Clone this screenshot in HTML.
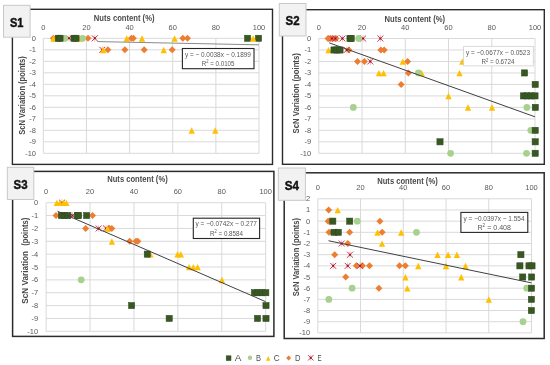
<!DOCTYPE html>
<html><head><meta charset="utf-8"><title>ScN variation vs nuts content</title>
<style>
html,body{margin:0;padding:0;background:#fff;}
body{width:550px;height:365px;overflow:hidden;}
svg{display:block;}
text{font-family:"Liberation Sans", Arial, sans-serif;}
.tk{font-size:7.5px;fill:#595959;}
.ti{font-size:8.2px;font-weight:bold;fill:#4a4a4a;}
.ti2{font-size:8.2px;font-weight:bold;fill:#6a6a6a;}
.eq{font-size:7px;fill:#595959;}
.lb{font-size:12.8px;font-weight:bold;fill:#111;stroke:#111;stroke-width:0.45px;}
.lg{font-size:9.4px;fill:#505050;}
</style></head>
<body>
<svg width="550" height="365" viewBox="0 0 550 365">
<rect width="550" height="365" fill="#fff"/>
<rect x="12.4" y="9.3" width="260.1" height="155.1" fill="#fff" stroke="#2b2b2b" stroke-width="1.4"/>
<path d="M43.30 153.30H259.00 M43.30 141.80H259.00 M43.30 130.30H259.00 M43.30 118.80H259.00 M43.30 107.30H259.00 M43.30 95.80H259.00 M43.30 84.30H259.00 M43.30 72.80H259.00 M43.30 61.30H259.00 M43.30 49.80H259.00 M43.30 38.30H259.00 M43.30 38.30V153.30 M86.44 38.30V153.30 M129.58 38.30V153.30 M172.72 38.30V153.30 M215.86 38.30V153.30 M259.00 38.30V153.30" stroke="#d9d9d9" stroke-width="1" fill="none"/>
<text x="43.30" y="30.30" text-anchor="middle" class="tk">0</text>
<text x="86.44" y="30.30" text-anchor="middle" class="tk">20</text>
<text x="129.58" y="30.30" text-anchor="middle" class="tk">40</text>
<text x="172.72" y="30.30" text-anchor="middle" class="tk">60</text>
<text x="215.86" y="30.30" text-anchor="middle" class="tk">80</text>
<text x="259.00" y="30.30" text-anchor="middle" class="tk">100</text>
<text x="36.00" y="155.80" text-anchor="end" class="tk">-10</text>
<text x="36.00" y="144.30" text-anchor="end" class="tk">-9</text>
<text x="36.00" y="132.80" text-anchor="end" class="tk">-8</text>
<text x="36.00" y="121.30" text-anchor="end" class="tk">-7</text>
<text x="36.00" y="109.80" text-anchor="end" class="tk">-6</text>
<text x="36.00" y="98.30" text-anchor="end" class="tk">-5</text>
<text x="36.00" y="86.80" text-anchor="end" class="tk">-4</text>
<text x="36.00" y="75.30" text-anchor="end" class="tk">-3</text>
<text x="36.00" y="63.80" text-anchor="end" class="tk">-2</text>
<text x="36.00" y="52.30" text-anchor="end" class="tk">-1</text>
<text x="36.00" y="40.80" text-anchor="end" class="tk">0</text>
<text x="93.8" y="21.3" textLength="60.7" lengthAdjust="spacingAndGlyphs" class="ti">Nuts content (%)</text>
<text transform="translate(25.4 134.7) rotate(-90)" x="0" y="0" textLength="78.5" lengthAdjust="spacingAndGlyphs" class="ti">ScN Variation (points)</text>
<path d="M53.30 34.80L56.80 38.30L53.30 41.80L49.80 38.30Z" fill="#ed7d31"/>
<path d="M88.00 34.80L91.50 38.30L88.00 41.80L84.50 38.30Z" fill="#ed7d31"/>
<path d="M131.30 34.80L134.80 38.30L131.30 41.80L127.80 38.30Z" fill="#ed7d31"/>
<path d="M133.30 34.80L136.80 38.30L133.30 41.80L129.80 38.30Z" fill="#ed7d31"/>
<path d="M182.80 34.80L186.30 38.30L182.80 41.80L179.30 38.30Z" fill="#ed7d31"/>
<path d="M187.50 34.80L191.00 38.30L187.50 41.80L184.00 38.30Z" fill="#ed7d31"/>
<path d="M107.90 46.30L111.40 49.80L107.90 53.30L104.40 49.80Z" fill="#ed7d31"/>
<path d="M124.90 46.30L128.40 49.80L124.90 53.30L121.40 49.80Z" fill="#ed7d31"/>
<path d="M144.20 46.30L147.70 49.80L144.20 53.30L140.70 49.80Z" fill="#ed7d31"/>
<path d="M172.20 46.30L175.70 49.80L172.20 53.30L168.70 49.80Z" fill="#ed7d31"/>
<g><path d="M66.03 35.32L71.97 41.27M71.97 35.32L66.03 41.27" stroke="#c23a4a" stroke-width="1.0" fill="none"/><path d="M69.00 34.80L69.00 41.80" stroke="#c23a4a" stroke-width="0.6" opacity="0.5" fill="none"/><circle cx="69.00" cy="38.30" r="1" fill="#b0001a"/></g>
<g><path d="M91.83 35.32L97.77 41.27M97.77 35.32L91.83 41.27" stroke="#c23a4a" stroke-width="1.0" fill="none"/><path d="M94.80 34.80L94.80 41.80" stroke="#c23a4a" stroke-width="0.6" opacity="0.5" fill="none"/><circle cx="94.80" cy="38.30" r="1" fill="#b0001a"/></g>
<g><path d="M99.33 46.82L105.27 52.77M105.27 46.82L99.33 52.77" stroke="#c23a4a" stroke-width="1.0" fill="none"/><path d="M102.30 46.30L102.30 53.30" stroke="#c23a4a" stroke-width="0.6" opacity="0.5" fill="none"/><circle cx="102.30" cy="49.80" r="1" fill="#b0001a"/></g>
<path d="M53.50 35.25L56.70 41.65L50.30 41.65Z" fill="#ffc000"/>
<path d="M80.00 35.25L83.20 41.65L76.80 41.65Z" fill="#ffc000"/>
<path d="M126.70 35.25L129.90 41.65L123.50 41.65Z" fill="#ffc000"/>
<path d="M142.00 35.25L145.20 41.65L138.80 41.65Z" fill="#ffc000"/>
<path d="M174.60 35.25L177.80 41.65L171.40 41.65Z" fill="#ffc000"/>
<path d="M103.30 46.75L106.50 53.15L100.10 53.15Z" fill="#ffc000"/>
<path d="M163.70 46.75L166.90 53.15L160.50 53.15Z" fill="#ffc000"/>
<path d="M191.70 127.25L194.90 133.65L188.50 133.65Z" fill="#ffc000"/>
<path d="M215.30 127.25L218.50 133.65L212.10 133.65Z" fill="#ffc000"/>
<circle cx="64.50" cy="38.30" r="3.4" fill="#a9d18e"/>
<circle cx="82.70" cy="38.30" r="3.4" fill="#a9d18e"/>
<rect x="55.20" y="35.20" width="6.2" height="6.2" fill="#385723" stroke="#2c4a1b" stroke-width="0.5"/>
<rect x="56.90" y="35.20" width="6.2" height="6.2" fill="#385723" stroke="#2c4a1b" stroke-width="0.5"/>
<rect x="70.90" y="35.20" width="6.2" height="6.2" fill="#385723" stroke="#2c4a1b" stroke-width="0.5"/>
<rect x="72.90" y="35.20" width="6.2" height="6.2" fill="#385723" stroke="#2c4a1b" stroke-width="0.5"/>
<rect x="244.50" y="35.20" width="6.2" height="6.2" fill="#385723" stroke="#2c4a1b" stroke-width="0.5"/>
<rect x="255.40" y="35.20" width="6.2" height="6.2" fill="#385723" stroke="#2c4a1b" stroke-width="0.5"/>
<path d="M253.10 35.25L256.30 41.65L249.90 41.65Z" fill="#ffc000"/>
<path d="M97.22 41.58L259.00 44.85" stroke="#8a8a8a" stroke-width="1.0" fill="none"/>
<rect x="182.4" y="48.5" width="71.6" height="20.2" fill="#fff" stroke="#262626" stroke-width="1.1"/>
<text x="184.9" y="56.7" textLength="66.0" lengthAdjust="spacingAndGlyphs" class="eq">y = − 0.0038x − 0.1899</text>
<text x="201.8" y="65.8" textLength="32.7" lengthAdjust="spacingAndGlyphs" class="eq">R<tspan font-size="4.6" dy="-2.4">2</tspan><tspan dy="2.4"> = 0.0105</tspan></text>
<rect x="3.5" y="5.3" width="26.6" height="31.9" fill="#f2f2f2" stroke="#c9c9c9" stroke-width="1"/>
<text x="9.9" y="26.9" textLength="13.5" lengthAdjust="spacingAndGlyphs" class="lb">S1</text>
<rect x="282.5" y="9.7" width="261.79999999999995" height="154.60000000000002" fill="#fff" stroke="#2b2b2b" stroke-width="1.4"/>
<path d="M318.80 153.30H535.00 M318.80 141.82H535.00 M318.80 130.34H535.00 M318.80 118.86H535.00 M318.80 107.38H535.00 M318.80 95.90H535.00 M318.80 84.42H535.00 M318.80 72.94H535.00 M318.80 61.46H535.00 M318.80 49.98H535.00 M318.80 38.50H535.00 M318.80 38.50V153.30 M362.04 38.50V153.30 M405.28 38.50V153.30 M448.52 38.50V153.30 M491.76 38.50V153.30 M535.00 38.50V153.30" stroke="#d9d9d9" stroke-width="1" fill="none"/>
<text x="318.80" y="30.40" text-anchor="middle" class="tk">0</text>
<text x="362.04" y="30.40" text-anchor="middle" class="tk">20</text>
<text x="405.28" y="30.40" text-anchor="middle" class="tk">40</text>
<text x="448.52" y="30.40" text-anchor="middle" class="tk">60</text>
<text x="491.76" y="30.40" text-anchor="middle" class="tk">80</text>
<text x="535.00" y="30.40" text-anchor="middle" class="tk">100</text>
<text x="311.20" y="155.80" text-anchor="end" class="tk">-10</text>
<text x="311.20" y="144.32" text-anchor="end" class="tk">-9</text>
<text x="311.20" y="132.84" text-anchor="end" class="tk">-8</text>
<text x="311.20" y="121.36" text-anchor="end" class="tk">-7</text>
<text x="311.20" y="109.88" text-anchor="end" class="tk">-6</text>
<text x="311.20" y="98.40" text-anchor="end" class="tk">-5</text>
<text x="311.20" y="86.92" text-anchor="end" class="tk">-4</text>
<text x="311.20" y="75.44" text-anchor="end" class="tk">-3</text>
<text x="311.20" y="63.96" text-anchor="end" class="tk">-2</text>
<text x="311.20" y="52.48" text-anchor="end" class="tk">-1</text>
<text x="311.20" y="41.00" text-anchor="end" class="tk">0</text>
<text x="384.5" y="21.7" textLength="60.6" lengthAdjust="spacingAndGlyphs" class="ti">Nuts content (%)</text>
<text transform="translate(299.0 133.5) rotate(-90)" x="0" y="0" textLength="80.3" lengthAdjust="spacingAndGlyphs" class="ti">ScN Variation (points)</text>
<path d="M328.00 35.00L331.50 38.50L328.00 42.00L324.50 38.50Z" fill="#ed7d31"/>
<path d="M330.50 35.00L334.00 38.50L330.50 42.00L327.00 38.50Z" fill="#ed7d31"/>
<path d="M333.00 35.00L336.50 38.50L333.00 42.00L329.50 38.50Z" fill="#ed7d31"/>
<path d="M336.00 35.00L339.50 38.50L336.00 42.00L332.50 38.50Z" fill="#ed7d31"/>
<path d="M348.90 46.48L352.40 49.98L348.90 53.48L345.40 49.98Z" fill="#ed7d31"/>
<path d="M380.90 46.48L384.40 49.98L380.90 53.48L377.40 49.98Z" fill="#ed7d31"/>
<path d="M384.20 46.48L387.70 49.98L384.20 53.48L380.70 49.98Z" fill="#ed7d31"/>
<path d="M357.50 57.96L361.00 61.46L357.50 64.96L354.00 61.46Z" fill="#ed7d31"/>
<path d="M364.40 57.96L367.90 61.46L364.40 64.96L360.90 61.46Z" fill="#ed7d31"/>
<path d="M407.60 57.96L411.10 61.46L407.60 64.96L404.10 61.46Z" fill="#ed7d31"/>
<path d="M408.40 69.44L411.90 72.94L408.40 76.44L404.90 72.94Z" fill="#ed7d31"/>
<path d="M401.10 80.92L404.60 84.42L401.10 87.92L397.60 84.42Z" fill="#ed7d31"/>
<g><path d="M329.02 35.52L334.98 41.48M334.98 35.52L329.02 41.48" stroke="#c23a4a" stroke-width="1.0" fill="none"/><path d="M332.00 35.00L332.00 42.00" stroke="#c23a4a" stroke-width="0.6" opacity="0.5" fill="none"/><circle cx="332.00" cy="38.50" r="1" fill="#b0001a"/></g>
<g><path d="M332.32 35.52L338.28 41.48M338.28 35.52L332.32 41.48" stroke="#c23a4a" stroke-width="1.0" fill="none"/><path d="M335.30 35.00L335.30 42.00" stroke="#c23a4a" stroke-width="0.6" opacity="0.5" fill="none"/><circle cx="335.30" cy="38.50" r="1" fill="#b0001a"/></g>
<g><path d="M339.42 35.52L345.38 41.48M345.38 35.52L339.42 41.48" stroke="#c23a4a" stroke-width="1.0" fill="none"/><path d="M342.40 35.00L342.40 42.00" stroke="#c23a4a" stroke-width="0.6" opacity="0.5" fill="none"/><circle cx="342.40" cy="38.50" r="1" fill="#b0001a"/></g>
<g><path d="M360.12 35.52L366.08 41.48M366.08 35.52L360.12 41.48" stroke="#c23a4a" stroke-width="1.0" fill="none"/><path d="M363.10 35.00L363.10 42.00" stroke="#c23a4a" stroke-width="0.6" opacity="0.5" fill="none"/><circle cx="363.10" cy="38.50" r="1" fill="#b0001a"/></g>
<g><path d="M377.42 35.52L383.38 41.48M383.38 35.52L377.42 41.48" stroke="#c23a4a" stroke-width="1.0" fill="none"/><path d="M380.40 35.00L380.40 42.00" stroke="#c23a4a" stroke-width="0.6" opacity="0.5" fill="none"/><circle cx="380.40" cy="38.50" r="1" fill="#b0001a"/></g>
<g><path d="M343.72 47.01L349.68 52.96M349.68 47.01L343.72 52.96" stroke="#c23a4a" stroke-width="1.0" fill="none"/><path d="M346.70 46.48L346.70 53.48" stroke="#c23a4a" stroke-width="0.6" opacity="0.5" fill="none"/><circle cx="346.70" cy="49.98" r="1" fill="#b0001a"/></g>
<g><path d="M367.32 58.48L373.28 64.44M373.28 58.48L367.32 64.44" stroke="#c23a4a" stroke-width="1.0" fill="none"/><path d="M370.30 57.96L370.30 64.96" stroke="#c23a4a" stroke-width="0.6" opacity="0.5" fill="none"/><circle cx="370.30" cy="61.46" r="1" fill="#b0001a"/></g>
<path d="M328.50 46.93L331.70 53.33L325.30 53.33Z" fill="#ffc000"/>
<path d="M402.80 58.41L406.00 64.81L399.60 64.81Z" fill="#ffc000"/>
<path d="M462.40 58.41L465.60 64.81L459.20 64.81Z" fill="#ffc000"/>
<path d="M379.00 69.89L382.20 76.29L375.80 76.29Z" fill="#ffc000"/>
<path d="M383.60 69.89L386.80 76.29L380.40 76.29Z" fill="#ffc000"/>
<path d="M421.60 69.89L424.80 76.29L418.40 76.29Z" fill="#ffc000"/>
<path d="M459.50 69.89L462.70 76.29L456.30 76.29Z" fill="#ffc000"/>
<path d="M448.50 92.85L451.70 99.25L445.30 99.25Z" fill="#ffc000"/>
<path d="M468.00 104.33L471.20 110.73L464.80 110.73Z" fill="#ffc000"/>
<path d="M492.00 104.33L495.20 110.73L488.80 110.73Z" fill="#ffc000"/>
<circle cx="358.70" cy="38.50" r="3.4" fill="#a9d18e"/>
<circle cx="418.40" cy="72.94" r="3.4" fill="#a9d18e"/>
<circle cx="353.30" cy="107.38" r="3.4" fill="#a9d18e"/>
<circle cx="526.90" cy="107.38" r="3.4" fill="#a9d18e"/>
<circle cx="530.80" cy="130.34" r="3.4" fill="#a9d18e"/>
<circle cx="450.60" cy="153.30" r="3.4" fill="#a9d18e"/>
<circle cx="526.50" cy="153.30" r="3.4" fill="#a9d18e"/>
<rect x="346.90" y="35.40" width="6.2" height="6.2" fill="#385723" stroke="#2c4a1b" stroke-width="0.5"/>
<rect x="348.10" y="35.40" width="6.2" height="6.2" fill="#385723" stroke="#2c4a1b" stroke-width="0.5"/>
<rect x="330.90" y="46.88" width="6.2" height="6.2" fill="#385723" stroke="#2c4a1b" stroke-width="0.5"/>
<rect x="333.90" y="46.88" width="6.2" height="6.2" fill="#385723" stroke="#2c4a1b" stroke-width="0.5"/>
<rect x="336.90" y="46.88" width="6.2" height="6.2" fill="#385723" stroke="#2c4a1b" stroke-width="0.5"/>
<rect x="521.40" y="69.84" width="6.2" height="6.2" fill="#385723" stroke="#2c4a1b" stroke-width="0.5"/>
<rect x="532.10" y="81.32" width="6.2" height="6.2" fill="#385723" stroke="#2c4a1b" stroke-width="0.5"/>
<rect x="520.40" y="92.80" width="6.2" height="6.2" fill="#385723" stroke="#2c4a1b" stroke-width="0.5"/>
<rect x="523.90" y="92.80" width="6.2" height="6.2" fill="#385723" stroke="#2c4a1b" stroke-width="0.5"/>
<rect x="527.90" y="92.80" width="6.2" height="6.2" fill="#385723" stroke="#2c4a1b" stroke-width="0.5"/>
<rect x="531.90" y="92.80" width="6.2" height="6.2" fill="#385723" stroke="#2c4a1b" stroke-width="0.5"/>
<rect x="532.20" y="104.28" width="6.2" height="6.2" fill="#385723" stroke="#2c4a1b" stroke-width="0.5"/>
<rect x="532.10" y="127.24" width="6.2" height="6.2" fill="#385723" stroke="#2c4a1b" stroke-width="0.5"/>
<rect x="436.90" y="138.72" width="6.2" height="6.2" fill="#385723" stroke="#2c4a1b" stroke-width="0.5"/>
<rect x="532.10" y="138.72" width="6.2" height="6.2" fill="#385723" stroke="#2c4a1b" stroke-width="0.5"/>
<rect x="532.10" y="150.20" width="6.2" height="6.2" fill="#385723" stroke="#2c4a1b" stroke-width="0.5"/>
<path d="M329.18 42.83L535.00 116.82" stroke="#404040" stroke-width="1.0" fill="none"/>
<rect x="463.6" y="46.3" width="69.7" height="19.6" fill="#fff" stroke="#d0d0d0" stroke-width="0.8"/>
<text x="466.0" y="54.8" textLength="64.0" lengthAdjust="spacingAndGlyphs" class="eq">y = −0.0677x − 0.0523</text>
<text x="481.5" y="63.9" textLength="33.0" lengthAdjust="spacingAndGlyphs" class="eq">R<tspan font-size="4.6" dy="-2.4">2</tspan><tspan dy="2.4"> = 0.6724</tspan></text>
<rect x="279.3" y="3.5" width="26.7" height="32.5" fill="#f2f2f2" stroke="#c9c9c9" stroke-width="1"/>
<text x="285.6" y="24.8" textLength="14.0" lengthAdjust="spacingAndGlyphs" class="lb">S2</text>
<rect x="12.6" y="171.4" width="261.29999999999995" height="164.99999999999997" fill="#fff" stroke="#2b2b2b" stroke-width="1.5"/>
<path d="M46.10 331.30H265.70 M46.10 318.44H265.70 M46.10 305.58H265.70 M46.10 292.72H265.70 M46.10 279.86H265.70 M46.10 267.00H265.70 M46.10 254.14H265.70 M46.10 241.28H265.70 M46.10 228.42H265.70 M46.10 215.56H265.70 M46.10 202.70H265.70 M46.10 202.70V331.30 M90.02 202.70V331.30 M133.94 202.70V331.30 M177.86 202.70V331.30 M221.78 202.70V331.30 M265.70 202.70V331.30" stroke="#d9d9d9" stroke-width="1" fill="none"/>
<text x="46.10" y="194.30" text-anchor="middle" class="tk">0</text>
<text x="90.02" y="194.30" text-anchor="middle" class="tk">20</text>
<text x="133.94" y="194.30" text-anchor="middle" class="tk">40</text>
<text x="177.86" y="194.30" text-anchor="middle" class="tk">60</text>
<text x="221.78" y="194.30" text-anchor="middle" class="tk">80</text>
<text x="265.70" y="194.30" text-anchor="middle" class="tk">100</text>
<text x="38.20" y="333.80" text-anchor="end" class="tk">-10</text>
<text x="38.20" y="320.94" text-anchor="end" class="tk">-9</text>
<text x="38.20" y="308.08" text-anchor="end" class="tk">-8</text>
<text x="38.20" y="295.22" text-anchor="end" class="tk">-7</text>
<text x="38.20" y="282.36" text-anchor="end" class="tk">-6</text>
<text x="38.20" y="269.50" text-anchor="end" class="tk">-5</text>
<text x="38.20" y="256.64" text-anchor="end" class="tk">-4</text>
<text x="38.20" y="243.78" text-anchor="end" class="tk">-3</text>
<text x="38.20" y="230.92" text-anchor="end" class="tk">-2</text>
<text x="38.20" y="218.06" text-anchor="end" class="tk">-1</text>
<text x="38.20" y="205.20" text-anchor="end" class="tk">0</text>
<text x="107.2" y="181.8" textLength="60.5" lengthAdjust="spacingAndGlyphs" class="ti">Nuts content (%)</text>
<text transform="translate(28.2 245.8) rotate(-90)" x="0" y="0" textLength="28.1" lengthAdjust="spacingAndGlyphs" class="ti">(points)</text>
<text transform="translate(28.2 303.7) rotate(-90)" x="0" y="0" textLength="52.7" lengthAdjust="spacingAndGlyphs" class="ti">ScN Variation</text>
<path d="M56.00 212.06L59.50 215.56L56.00 219.06L52.50 215.56Z" fill="#ed7d31"/>
<path d="M92.50 212.06L96.00 215.56L92.50 219.06L89.00 215.56Z" fill="#ed7d31"/>
<path d="M85.60 224.92L89.10 228.42L85.60 231.92L82.10 228.42Z" fill="#ed7d31"/>
<path d="M109.50 224.92L113.00 228.42L109.50 231.92L106.00 228.42Z" fill="#ed7d31"/>
<path d="M111.80 224.92L115.30 228.42L111.80 231.92L108.30 228.42Z" fill="#ed7d31"/>
<path d="M129.70 237.78L133.20 241.28L129.70 244.78L126.20 241.28Z" fill="#ed7d31"/>
<path d="M136.00 237.78L139.50 241.28L136.00 244.78L132.50 241.28Z" fill="#ed7d31"/>
<path d="M137.80 237.78L141.30 241.28L137.80 244.78L134.30 241.28Z" fill="#ed7d31"/>
<g><path d="M59.02 199.72L64.97 205.67M64.97 199.72L59.02 205.67" stroke="#c23a4a" stroke-width="1.0" fill="none"/><path d="M62.00 199.20L62.00 206.20" stroke="#c23a4a" stroke-width="0.6" opacity="0.5" fill="none"/><circle cx="62.00" cy="202.70" r="1" fill="#b0001a"/></g>
<g><path d="M69.53 212.59L75.47 218.53M75.47 212.59L69.53 218.53" stroke="#c23a4a" stroke-width="1.0" fill="none"/><path d="M72.50 212.06L72.50 219.06" stroke="#c23a4a" stroke-width="0.6" opacity="0.5" fill="none"/><circle cx="72.50" cy="215.56" r="1" fill="#b0001a"/></g>
<g><path d="M95.73 225.44L101.67 231.39M101.67 225.44L95.73 231.39" stroke="#c23a4a" stroke-width="1.0" fill="none"/><path d="M98.70 224.92L98.70 231.92" stroke="#c23a4a" stroke-width="0.6" opacity="0.5" fill="none"/><circle cx="98.70" cy="228.42" r="1" fill="#b0001a"/></g>
<g><path d="M103.03 225.44L108.97 231.39M108.97 225.44L103.03 231.39" stroke="#c23a4a" stroke-width="1.0" fill="none"/><path d="M106.00 224.92L106.00 231.92" stroke="#c23a4a" stroke-width="0.6" opacity="0.5" fill="none"/><circle cx="106.00" cy="228.42" r="1" fill="#b0001a"/></g>
<path d="M56.80 199.65L60.00 206.05L53.60 206.05Z" fill="#ffc000"/>
<path d="M60.00 199.65L63.20 206.05L56.80 206.05Z" fill="#ffc000"/>
<path d="M63.60 199.65L66.80 206.05L60.40 206.05Z" fill="#ffc000"/>
<path d="M66.40 199.65L69.60 206.05L63.20 206.05Z" fill="#ffc000"/>
<path d="M107.40 225.37L110.60 231.77L104.20 231.77Z" fill="#ffc000"/>
<path d="M111.90 238.23L115.10 244.63L108.70 244.63Z" fill="#ffc000"/>
<path d="M150.30 251.09L153.50 257.49L147.10 257.49Z" fill="#ffc000"/>
<path d="M177.60 251.09L180.80 257.49L174.40 257.49Z" fill="#ffc000"/>
<path d="M180.80 251.09L184.00 257.49L177.60 257.49Z" fill="#ffc000"/>
<path d="M189.10 263.95L192.30 270.35L185.90 270.35Z" fill="#ffc000"/>
<path d="M193.30 263.95L196.50 270.35L190.10 270.35Z" fill="#ffc000"/>
<path d="M197.60 263.95L200.80 270.35L194.40 270.35Z" fill="#ffc000"/>
<path d="M221.90 276.81L225.10 283.21L218.70 283.21Z" fill="#ffc000"/>
<circle cx="81.20" cy="279.86" r="3.4" fill="#a9d18e"/>
<rect x="58.30" y="212.46" width="6.2" height="6.2" fill="#385723" stroke="#2c4a1b" stroke-width="0.5"/>
<rect x="61.40" y="212.46" width="6.2" height="6.2" fill="#385723" stroke="#2c4a1b" stroke-width="0.5"/>
<rect x="64.80" y="212.46" width="6.2" height="6.2" fill="#385723" stroke="#2c4a1b" stroke-width="0.5"/>
<rect x="74.30" y="212.46" width="6.2" height="6.2" fill="#385723" stroke="#2c4a1b" stroke-width="0.5"/>
<rect x="75.50" y="212.46" width="6.2" height="6.2" fill="#385723" stroke="#2c4a1b" stroke-width="0.5"/>
<rect x="83.50" y="212.46" width="6.2" height="6.2" fill="#385723" stroke="#2c4a1b" stroke-width="0.5"/>
<rect x="144.20" y="251.04" width="6.2" height="6.2" fill="#385723" stroke="#2c4a1b" stroke-width="0.5"/>
<rect x="251.40" y="289.62" width="6.2" height="6.2" fill="#385723" stroke="#2c4a1b" stroke-width="0.5"/>
<rect x="254.90" y="289.62" width="6.2" height="6.2" fill="#385723" stroke="#2c4a1b" stroke-width="0.5"/>
<rect x="258.90" y="289.62" width="6.2" height="6.2" fill="#385723" stroke="#2c4a1b" stroke-width="0.5"/>
<rect x="262.70" y="289.62" width="6.2" height="6.2" fill="#385723" stroke="#2c4a1b" stroke-width="0.5"/>
<rect x="128.50" y="302.48" width="6.2" height="6.2" fill="#385723" stroke="#2c4a1b" stroke-width="0.5"/>
<rect x="262.90" y="302.48" width="6.2" height="6.2" fill="#385723" stroke="#2c4a1b" stroke-width="0.5"/>
<rect x="166.10" y="315.34" width="6.2" height="6.2" fill="#385723" stroke="#2c4a1b" stroke-width="0.5"/>
<rect x="254.40" y="315.34" width="6.2" height="6.2" fill="#385723" stroke="#2c4a1b" stroke-width="0.5"/>
<rect x="262.90" y="315.34" width="6.2" height="6.2" fill="#385723" stroke="#2c4a1b" stroke-width="0.5"/>
<path d="M57.52 211.22L265.70 301.68" stroke="#404040" stroke-width="1.0" fill="none"/>
<rect x="193.3" y="218.2" width="66.3" height="20.3" fill="#fff" stroke="#262626" stroke-width="1.1"/>
<text x="195.5" y="226.3" textLength="61.4" lengthAdjust="spacingAndGlyphs" class="eq">y = −0.0742x − 0.277</text>
<text x="210.0" y="235.5" textLength="33.0" lengthAdjust="spacingAndGlyphs" class="eq">R<tspan font-size="4.6" dy="-2.4">2</tspan><tspan dy="2.4"> = 0.8584</tspan></text>
<rect x="7.3" y="167.3" width="26.5" height="32.2" fill="#f2f2f2" stroke="#c9c9c9" stroke-width="1"/>
<text x="13.6" y="189.0" textLength="14.0" lengthAdjust="spacingAndGlyphs" class="lb">S3</text>
<rect x="284.2" y="172.8" width="260.00000000000006" height="165.7" fill="#fff" stroke="#2b2b2b" stroke-width="1.5"/>
<path d="M317.80 332.90H531.50 M317.80 321.72H531.50 M317.80 310.55H531.50 M317.80 299.38H531.50 M317.80 288.20H531.50 M317.80 277.02H531.50 M317.80 265.85H531.50 M317.80 254.68H531.50 M317.80 243.50H531.50 M317.80 232.32H531.50 M317.80 221.15H531.50 M317.80 209.98H531.50 M317.80 198.80H531.50 M317.80 198.80V332.90 M360.54 198.80V332.90 M403.28 198.80V332.90 M446.02 198.80V332.90 M488.76 198.80V332.90 M531.50 198.80V332.90" stroke="#d9d9d9" stroke-width="1" fill="none"/>
<text x="317.80" y="190.40" text-anchor="middle" class="tk">0</text>
<text x="360.54" y="190.40" text-anchor="middle" class="tk">20</text>
<text x="403.28" y="190.40" text-anchor="middle" class="tk">40</text>
<text x="446.02" y="190.40" text-anchor="middle" class="tk">60</text>
<text x="488.76" y="190.40" text-anchor="middle" class="tk">80</text>
<text x="531.50" y="190.40" text-anchor="middle" class="tk">100</text>
<text x="310.20" y="335.40" text-anchor="end" class="tk">-10</text>
<text x="310.20" y="324.22" text-anchor="end" class="tk">-9</text>
<text x="310.20" y="313.05" text-anchor="end" class="tk">-8</text>
<text x="310.20" y="301.88" text-anchor="end" class="tk">-7</text>
<text x="310.20" y="290.70" text-anchor="end" class="tk">-6</text>
<text x="310.20" y="279.52" text-anchor="end" class="tk">-5</text>
<text x="310.20" y="268.35" text-anchor="end" class="tk">-4</text>
<text x="310.20" y="257.18" text-anchor="end" class="tk">-3</text>
<text x="310.20" y="246.00" text-anchor="end" class="tk">-2</text>
<text x="310.20" y="234.82" text-anchor="end" class="tk">-1</text>
<text x="310.20" y="223.65" text-anchor="end" class="tk">0</text>
<text x="310.20" y="212.48" text-anchor="end" class="tk">1</text>
<text x="310.20" y="201.30" text-anchor="end" class="tk">2</text>
<text x="377.2" y="183.9" textLength="60.5" lengthAdjust="spacingAndGlyphs" class="ti">Nuts content (%)</text>
<text transform="translate(298.6 296.3) rotate(-90)" x="0" y="0" textLength="78.3" lengthAdjust="spacingAndGlyphs" class="ti">ScN Variation (points)</text>
<path d="M328.60 206.48L332.10 209.98L328.60 213.48L325.10 209.98Z" fill="#ed7d31"/>
<path d="M328.10 217.65L331.60 221.15L328.10 224.65L324.60 221.15Z" fill="#ed7d31"/>
<path d="M379.90 217.65L383.40 221.15L379.90 224.65L376.40 221.15Z" fill="#ed7d31"/>
<path d="M329.00 228.82L332.50 232.32L329.00 235.82L325.50 232.32Z" fill="#ed7d31"/>
<path d="M349.60 228.82L353.10 232.32L349.60 235.82L346.10 232.32Z" fill="#ed7d31"/>
<path d="M382.20 228.82L385.70 232.32L382.20 235.82L378.70 232.32Z" fill="#ed7d31"/>
<path d="M347.80 240.00L351.30 243.50L347.80 247.00L344.30 243.50Z" fill="#ed7d31"/>
<path d="M334.70 251.18L338.20 254.68L334.70 258.18L331.20 254.68Z" fill="#ed7d31"/>
<path d="M356.30 262.35L359.80 265.85L356.30 269.35L352.80 265.85Z" fill="#ed7d31"/>
<path d="M362.40 262.35L365.90 265.85L362.40 269.35L358.90 265.85Z" fill="#ed7d31"/>
<path d="M369.50 262.35L373.00 265.85L369.50 269.35L366.00 265.85Z" fill="#ed7d31"/>
<path d="M399.50 262.35L403.00 265.85L399.50 269.35L396.00 265.85Z" fill="#ed7d31"/>
<path d="M405.40 262.35L408.90 265.85L405.40 269.35L401.90 265.85Z" fill="#ed7d31"/>
<path d="M345.70 273.52L349.20 277.02L345.70 280.52L342.20 277.02Z" fill="#ed7d31"/>
<path d="M378.90 284.70L382.40 288.20L378.90 291.70L375.40 288.20Z" fill="#ed7d31"/>
<g><path d="M338.72 240.53L344.68 246.47M344.68 240.53L338.72 246.47" stroke="#c23a4a" stroke-width="1.0" fill="none"/><path d="M341.70 240.00L341.70 247.00" stroke="#c23a4a" stroke-width="0.6" opacity="0.5" fill="none"/><circle cx="341.70" cy="243.50" r="1" fill="#b0001a"/></g>
<g><path d="M347.02 251.70L352.98 257.65M352.98 251.70L347.02 257.65" stroke="#c23a4a" stroke-width="1.0" fill="none"/><path d="M350.00 251.18L350.00 258.18" stroke="#c23a4a" stroke-width="0.6" opacity="0.5" fill="none"/><circle cx="350.00" cy="254.68" r="1" fill="#b0001a"/></g>
<g><path d="M330.22 262.88L336.18 268.83M336.18 262.88L330.22 268.83" stroke="#c23a4a" stroke-width="1.0" fill="none"/><path d="M333.20 262.35L333.20 269.35" stroke="#c23a4a" stroke-width="0.6" opacity="0.5" fill="none"/><circle cx="333.20" cy="265.85" r="1" fill="#b0001a"/></g>
<g><path d="M344.72 262.88L350.68 268.83M350.68 262.88L344.72 268.83" stroke="#c23a4a" stroke-width="1.0" fill="none"/><path d="M347.70 262.35L347.70 269.35" stroke="#c23a4a" stroke-width="0.6" opacity="0.5" fill="none"/><circle cx="347.70" cy="265.85" r="1" fill="#b0001a"/></g>
<g><path d="M357.02 262.88L362.98 268.83M362.98 262.88L357.02 268.83" stroke="#c23a4a" stroke-width="1.0" fill="none"/><path d="M360.00 262.35L360.00 269.35" stroke="#c23a4a" stroke-width="0.6" opacity="0.5" fill="none"/><circle cx="360.00" cy="265.85" r="1" fill="#b0001a"/></g>
<path d="M337.70 206.93L340.90 213.33L334.50 213.33Z" fill="#ffc000"/>
<path d="M377.50 229.27L380.70 235.68L374.30 235.68Z" fill="#ffc000"/>
<path d="M401.20 229.27L404.40 235.68L398.00 235.68Z" fill="#ffc000"/>
<path d="M382.00 240.45L385.20 246.85L378.80 246.85Z" fill="#ffc000"/>
<path d="M437.50 251.62L440.70 258.03L434.30 258.03Z" fill="#ffc000"/>
<path d="M448.10 251.62L451.30 258.03L444.90 258.03Z" fill="#ffc000"/>
<path d="M456.90 251.62L460.10 258.03L453.70 258.03Z" fill="#ffc000"/>
<path d="M418.30 262.80L421.50 269.20L415.10 269.20Z" fill="#ffc000"/>
<path d="M446.00 262.80L449.20 269.20L442.80 269.20Z" fill="#ffc000"/>
<path d="M465.50 262.80L468.70 269.20L462.30 269.20Z" fill="#ffc000"/>
<path d="M405.40 273.97L408.60 280.38L402.20 280.38Z" fill="#ffc000"/>
<path d="M461.20 273.97L464.40 280.38L458.00 280.38Z" fill="#ffc000"/>
<path d="M407.30 285.15L410.50 291.55L404.10 291.55Z" fill="#ffc000"/>
<path d="M488.80 296.32L492.00 302.73L485.60 302.73Z" fill="#ffc000"/>
<circle cx="357.30" cy="221.15" r="3.4" fill="#a9d18e"/>
<circle cx="416.50" cy="232.32" r="3.4" fill="#a9d18e"/>
<circle cx="352.10" cy="288.20" r="3.4" fill="#a9d18e"/>
<circle cx="526.70" cy="288.20" r="3.4" fill="#a9d18e"/>
<circle cx="328.80" cy="299.38" r="3.4" fill="#a9d18e"/>
<circle cx="523.00" cy="321.72" r="3.4" fill="#a9d18e"/>
<rect x="329.70" y="218.05" width="6.2" height="6.2" fill="#385723" stroke="#2c4a1b" stroke-width="0.5"/>
<rect x="346.60" y="218.05" width="6.2" height="6.2" fill="#385723" stroke="#2c4a1b" stroke-width="0.5"/>
<rect x="330.90" y="229.22" width="6.2" height="6.2" fill="#385723" stroke="#2c4a1b" stroke-width="0.5"/>
<rect x="335.20" y="229.22" width="6.2" height="6.2" fill="#385723" stroke="#2c4a1b" stroke-width="0.5"/>
<rect x="517.80" y="251.58" width="6.2" height="6.2" fill="#385723" stroke="#2c4a1b" stroke-width="0.5"/>
<rect x="516.80" y="262.75" width="6.2" height="6.2" fill="#385723" stroke="#2c4a1b" stroke-width="0.5"/>
<rect x="525.90" y="262.75" width="6.2" height="6.2" fill="#385723" stroke="#2c4a1b" stroke-width="0.5"/>
<rect x="528.90" y="262.75" width="6.2" height="6.2" fill="#385723" stroke="#2c4a1b" stroke-width="0.5"/>
<rect x="519.60" y="273.92" width="6.2" height="6.2" fill="#385723" stroke="#2c4a1b" stroke-width="0.5"/>
<rect x="528.50" y="273.92" width="6.2" height="6.2" fill="#385723" stroke="#2c4a1b" stroke-width="0.5"/>
<rect x="528.40" y="285.10" width="6.2" height="6.2" fill="#385723" stroke="#2c4a1b" stroke-width="0.5"/>
<rect x="528.30" y="296.27" width="6.2" height="6.2" fill="#385723" stroke="#2c4a1b" stroke-width="0.5"/>
<rect x="528.30" y="307.45" width="6.2" height="6.2" fill="#385723" stroke="#2c4a1b" stroke-width="0.5"/>
<path d="M328.49 240.73L531.50 282.88" stroke="#404040" stroke-width="1.0" fill="none"/>
<rect x="460.9" y="212.4" width="66.9" height="20.0" fill="#fff" stroke="#262626" stroke-width="1.1"/>
<text x="463.6" y="221.0" textLength="60.9" lengthAdjust="spacingAndGlyphs" class="eq">y = −0.0397x − 1.554</text>
<text x="477.5" y="229.5" textLength="33.5" lengthAdjust="spacingAndGlyphs" class="eq">R<tspan font-size="4.6" dy="-2.4">2</tspan><tspan dy="2.4"> = 0.408</tspan></text>
<rect x="278.3" y="168.0" width="27.1" height="32.3" fill="#f2f2f2" stroke="#c9c9c9" stroke-width="1"/>
<text x="284.8" y="189.5" textLength="14.2" lengthAdjust="spacingAndGlyphs" class="lb">S4</text>
<rect x="226.20" y="355.80" width="4.8" height="4.8" fill="#385723" stroke="#2c4a1b" stroke-width="0.5"/>
<circle cx="250.00" cy="357.80" r="2.2" fill="#a9d18e"/>
<path d="M268.20 356.00L270.40 360.70L266.00 360.70Z" fill="#ffc000"/>
<path d="M288.60 355.50L291.10 358.00L288.60 360.50L286.10 358.00Z" fill="#ed7d31"/>
<g><path d="M308.06 355.17L313.33 360.44M313.33 355.17L308.06 360.44" stroke="#c23a4a" stroke-width="1.0" fill="none"/><path d="M310.70 354.70L310.70 360.90" stroke="#c23a4a" stroke-width="0.6" opacity="0.5" fill="none"/><circle cx="310.70" cy="357.80" r="1" fill="#b0001a"/></g>
<text x="234.7" y="360.6" textLength="6.6" lengthAdjust="spacingAndGlyphs" class="lg">A</text>
<text x="256.1" y="360.6" textLength="5.0" lengthAdjust="spacingAndGlyphs" class="lg">B</text>
<text x="273.8" y="360.6" textLength="5.9" lengthAdjust="spacingAndGlyphs" class="lg">C</text>
<text x="294.9" y="360.6" textLength="5.5" lengthAdjust="spacingAndGlyphs" class="lg">D</text>
<text x="317.6" y="360.6" textLength="4.1" lengthAdjust="spacingAndGlyphs" class="lg">E</text>
</svg>
</body></html>
